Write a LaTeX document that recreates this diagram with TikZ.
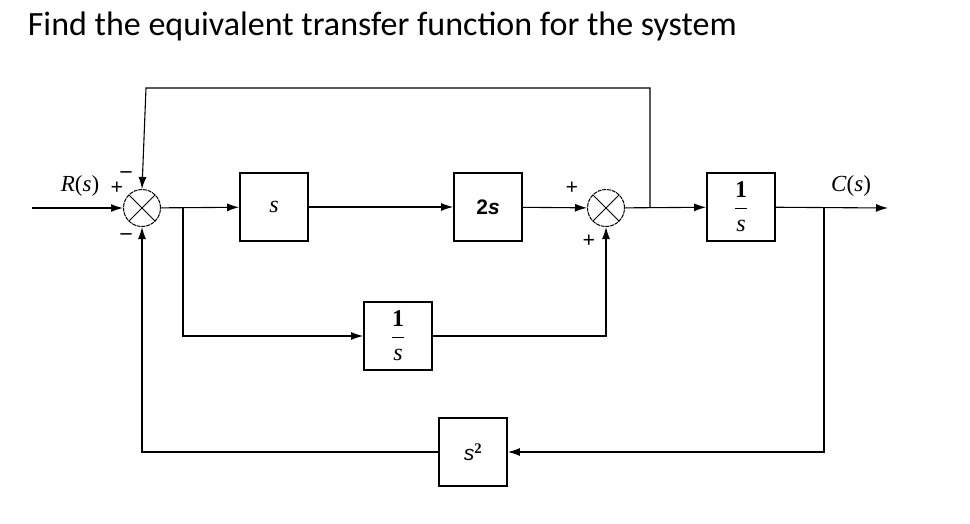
\documentclass[tikz,border=0pt]{standalone}
\usepackage{fontspec}
\setmainfont{Liberation Serif}
\newfontfamily\calib{Carlito}
\newfontfamily\hel{Liberation Sans}
\usetikzlibrary{arrows.meta}
\begin{document}
\begin{tikzpicture}[x=1pt,y=-1pt,>={Latex[length=12pt,width=8pt]},line width=1.1pt,
 blk/.style={draw,line width=1.8pt,minimum width=68pt,minimum height=68pt,inner sep=0pt,font=\fontsize{24}{24}\selectfont},
 sumj/.style={draw,circle,line width=1pt,dash pattern=on 4pt off 0.8pt,minimum size=37pt,inner sep=0pt,path picture={\draw[solid,line width=1pt] (path picture bounding box.north west)--(path picture bounding box.south east) (path picture bounding box.north east)--(path picture bounding box.south west);}},
 sg/.style={font=\bfseries\fontsize{22}{22}\selectfont}]
\useasboundingbox (0,0) rectangle (970,523);
\node[anchor=west,font=\calib\fontsize{34}{34}\selectfont] (t) at (24,26) {Find the equivalent transfer function for the system};
\node[sumj] (s1) at (142,208) {};
\node[sumj] (s2) at (606,208) {};
\node[blk] (bs) at (274,207) {\textit{s}};
\node[blk,font=\hel\bfseries\fontsize{21}{21}\selectfont] (b2) at (488,207) {2\textit{s}};
\node[blk] (bi) at (741,207) {$\displaystyle\frac{\mathbf{1}}{\textit{s}}$};
\node[blk] (bi2) at (398,336) {$\displaystyle\frac{\mathbf{1}}{\textit{s}}$};
\node[blk,font=\hel\fontsize{21}{21}\selectfont] (bq) at (473,452) {\textit{s}$^{\mathbf{2}}$};
\coordinate (in) at (32,208);
\coordinate (out) at (888,208);
\coordinate (b1) at (183,208);
\coordinate (b3) at (650,208);
\coordinate (b4) at (824,208);
\draw[->] (in) -- (s1);
\draw[->] (s1) -- (bs);
\draw[->] (bs) -- (b2);
\draw[->] (b2) -- (s2);
\draw[->] (s2) -- (bi);
\draw[->] (bi) -- (out);
\draw[->] (b1) |- (bi2);
\draw[->] (bi2) -| (s2);
\draw[->] (b3) |- (146,88) -- (s1.north);
\draw[->] (b4) |- (bq);
\draw[->] (bq) -| (s1.south);
\node[font=\fontsize{23}{23}\selectfont] (r) at (80,186) {\textit{R}(\textit{s})};
\node[font=\fontsize{23}{23}\selectfont] (c) at (851,186) {\textit{C}(\textit{s})};
\node[sg] (p1) at (117,188) {+};
\node[sg] (m1) at (126,175) {--};
\node[sg] (m2) at (126,237) {--};
\node[sg] (p2) at (572,188) {+};
\node[sg] (p3) at (589,241) {+};
\end{tikzpicture}
\end{document}
